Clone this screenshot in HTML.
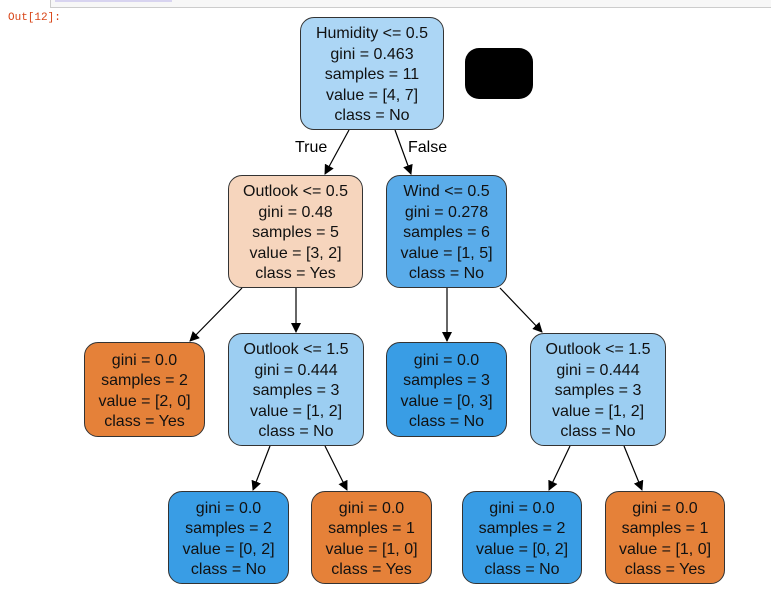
<!DOCTYPE html>
<html><head><style>
body{margin:0;width:771px;height:590px;background:#fff;position:relative;overflow:hidden;font-family:"Liberation Sans",Arial,sans-serif}
.n{position:absolute;box-sizing:border-box;border:1.3px solid #333;border-radius:14px;text-align:center;font-size:16px;line-height:20.5px;color:#111;display:flex;flex-direction:column;justify-content:center;padding-top:4px}
.o{background:#e58139}.b{background:#399de5}
svg{position:absolute;left:0;top:0}
</style></head><body>
<div style="position:absolute;left:50px;top:-2px;width:730px;height:8px;border:1px solid #ccc;background:#f7f7f7"></div>
<div style="position:absolute;left:55px;top:0;width:117px;height:2px;background:#d8d4f0"></div>
<div style="position:absolute;left:8px;top:12px;font-family:'Liberation Mono',monospace;font-size:11px;color:#d84315">Out[12]:</div>
<svg width="771" height="590">
<defs><marker id="a" markerWidth="10" markerHeight="10" refX="9" refY="5" orient="auto" markerUnits="userSpaceOnUse"><path d="M0,0 L10,5 L0,10 z" fill="#000"/></marker></defs>
<g stroke="#000" stroke-width="1.2" marker-end="url(#a)">
<line x1="349" y1="130" x2="325" y2="174"/>
<line x1="395" y1="130" x2="411" y2="174"/>
<line x1="242" y1="288" x2="190" y2="341"/>
<line x1="296" y1="288" x2="296" y2="332"/>
<line x1="447" y1="288" x2="447" y2="341"/>
<line x1="500" y1="288" x2="542" y2="332"/>
<line x1="270" y1="446" x2="253" y2="490"/>
<line x1="325" y1="446" x2="347" y2="490"/>
<line x1="570" y1="446" x2="549" y2="490"/>
<line x1="624" y1="446" x2="642" y2="490"/>
</g>
<text x="295" y="152" font-size="16" font-family="Liberation Sans,sans-serif">True</text>
<text x="408" y="152" font-size="16" font-family="Liberation Sans,sans-serif">False</text>
</svg>
<div class="n" style="left:300px;top:17px;width:144px;height:113px;background:#acd6f5">Humidity &lt;= 0.5<br>gini = 0.463<br>samples = 11<br>value = [4, 7]<br>class = No</div>
<div style="position:absolute;left:465px;top:48px;width:68px;height:51px;background:#000;border-radius:14px"></div>
<div class="n" style="left:228px;top:175px;width:135px;height:113px;background:#f6d5bd">Outlook &lt;= 0.5<br>gini = 0.48<br>samples = 5<br>value = [3, 2]<br>class = Yes</div>
<div class="n" style="left:386px;top:175px;width:121px;height:113px;background:#5aacea">Wind &lt;= 0.5<br>gini = 0.278<br>samples = 6<br>value = [1, 5]<br>class = No</div>
<div class="n o" style="left:84px;top:342px;width:121px;height:95px">gini = 0.0<br>samples = 2<br>value = [2, 0]<br>class = Yes</div>
<div class="n" style="left:228px;top:333px;width:136px;height:113px;background:#9ccef2">Outlook &lt;= 1.5<br>gini = 0.444<br>samples = 3<br>value = [1, 2]<br>class = No</div>
<div class="n b" style="left:386px;top:342px;width:121px;height:95px">gini = 0.0<br>samples = 3<br>value = [0, 3]<br>class = No</div>
<div class="n" style="left:530px;top:333px;width:136px;height:113px;background:#9ccef2">Outlook &lt;= 1.5<br>gini = 0.444<br>samples = 3<br>value = [1, 2]<br>class = No</div>
<div class="n b" style="left:168px;top:491px;width:121px;height:93px">gini = 0.0<br>samples = 2<br>value = [0, 2]<br>class = No</div>
<div class="n o" style="left:311px;top:491px;width:121px;height:93px">gini = 0.0<br>samples = 1<br>value = [1, 0]<br>class = Yes</div>
<div class="n b" style="left:462px;top:491px;width:120px;height:93px">gini = 0.0<br>samples = 2<br>value = [0, 2]<br>class = No</div>
<div class="n o" style="left:605px;top:491px;width:120px;height:93px">gini = 0.0<br>samples = 1<br>value = [1, 0]<br>class = Yes</div>
</body></html>
